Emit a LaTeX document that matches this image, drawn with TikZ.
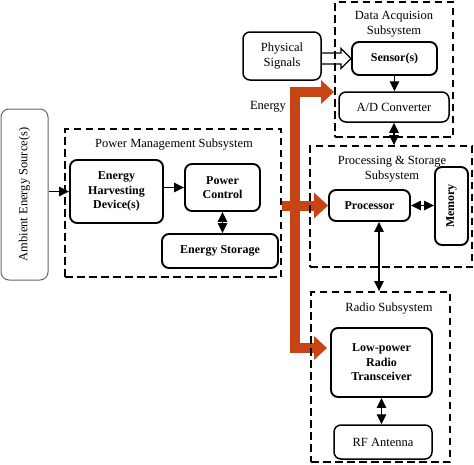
\documentclass[tikz,border=0pt]{standalone}
\usepackage{fontspec}
\setmainfont{Liberation Serif}
\usetikzlibrary{arrows.meta,calc,backgrounds}
\definecolor{busc}{RGB}{200,68,20}
\begin{document}
\begin{tikzpicture}[x=1pt,y=-1pt,
  every node/.style={font=\fontsize{12.5}{14.5}\selectfont, inner sep=0pt, align=center},
  blk/.style={draw, line width=1.9pt, rounded corners=7pt, font=\fontsize{12}{14.5}\selectfont\bfseries},
  lightbox/.style={draw, line width=1.5pt, rounded corners=7pt},
  ambbox/.style={draw=black!60, line width=1pt, rounded corners=8pt},
  sub/.style={draw, line width=1.9pt, dash pattern=on 7.5pt off 4.5pt},
  arr/.style={line width=1.2pt, -{Triangle[length=10pt,width=9.5pt]}},
  darr/.style={line width=1.2pt, {Triangle[length=10pt,width=9.5pt]}-{Triangle[length=10pt,width=9.5pt]}},
  bus/.style={draw=busc, line width=10pt, line join=miter},
  bushead/.style={{Triangle[length=13pt,width=23pt]}-{Triangle[length=13pt,width=23pt]}},
]
\path[use as bounding box] (0,0) rectangle (474,464);

% subsystems
\node[sub, minimum width=216pt, minimum height=148pt] (pm) at (173,203) {};
\node (pmlab) at (174,145) {Power Management Subsystem};
\node[sub, minimum width=118pt, minimum height=135pt] (da) at (394,69.5) {};
\node (dalab) at (394,24) {Data Acquision\\Subsystem};
\node[sub, minimum width=162pt, minimum height=121pt] (ps) at (391,206.5) {};
\node (pslab) at (392,169) {Processing \& Storage\\Subsystem};
\node[sub, minimum width=139pt, minimum height=170pt] (rs) at (380.5,377) {};
\node (rslab) at (389,309) {Radio Subsystem};

% blocks
\node[ambbox, rotate=90, minimum width=171pt, minimum height=47pt] (amb) at (24.5,194.5) {Ambient Energy Source(s)};
\node[blk, minimum width=93pt, minimum height=63pt] (ehd) at (116.5,191.5) {Energy\\Harvesting\\Device(s)};
\node[blk, minimum width=75pt, minimum height=47pt] (pc) at (222.5,187.5) {Power\\Control};
\node[blk, minimum width=116pt, minimum height=34pt] (es) at (220,251) {Energy Storage};
\node[lightbox, minimum width=78pt, minimum height=48pt] (phys) at (282,56) {Physical\\Signals};
\node[blk, minimum width=85pt, minimum height=33pt] (sens) at (394.5,58.5) {Sensor(s)};
\node[lightbox, minimum width=110pt, minimum height=30pt] (adc) at (394,107) {A/D Converter};
\node[blk, minimum width=81pt, minimum height=31pt] (proc) at (369.5,205.5) {Processor};
\node[blk, rotate=90, minimum width=78pt, minimum height=33pt] (mem) at (451.5,206) {Memory};
\node[blk, minimum width=101pt, minimum height=69pt] (trx) at (381.5,362.5) {Low-power\\Radio\\Transceiver};
\node[lightbox, minimum width=98pt, minimum height=34pt] (rfa) at (383,442) {RF Antenna};
\node (enlab) at (268,107) {Energy};

% energy bus
\begin{scope}[on background layer]
\coordinate (btop) at (294.5,92);
\coordinate (bbot) at (294.5,348);
\coordinate (datip) at (da.west |- btop);
\coordinate (rtip) at (327,348);
\draw[bus, bushead] (datip) -- (btop) -- (bbot) -- (rtip);
\draw[bus, -{Triangle[length=14pt,width=25pt]}] (pm.east |- proc.west) -- (proc.west);
\end{scope}

% connectors
\draw[arr] (ehd.west -| amb.south) -- (ehd.west);
\draw[arr] (pc.west -| ehd.east) -- (pc.west);
\draw[darr] (pc.south) -- (pc.south |- es.north);
\coordinate (hs) at (phys.east |- sens.west);
\draw[line width=1.3pt, line join=miter] ($(hs)+(0,-5.5)$) -- ($(sens.west)+(-10,-5.5)$) -- ($(sens.west)+(-10,-10)$) -- (sens.west) -- ($(sens.west)+(-10,10)$) -- ($(sens.west)+(-10,5.5)$) -- ($(hs)+(0,5.5)$);
\draw[arr] (sens.south) -- (sens.south |- adc.north);
\draw[darr] (adc.south) -- (adc.south |- ps.north);
\draw[darr] (proc.east) -- (proc.east -| mem.north);
\coordinate (pr) at ($(proc.south)+(9.5,0)$);
\draw[darr] (pr) -- (pr |- rs.north);
\draw[darr] (trx.south) -- (trx.south |- rfa.north);
\end{tikzpicture}
\end{document}
